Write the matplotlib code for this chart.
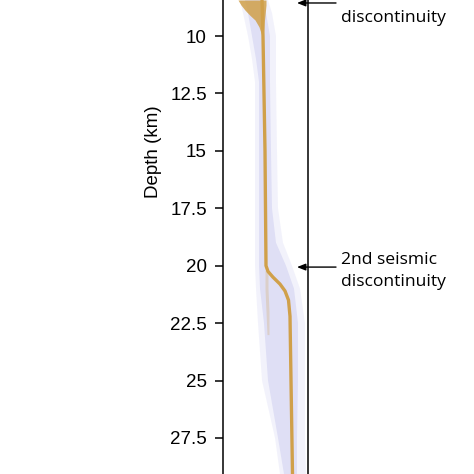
import matplotlib
matplotlib.use("Agg")
import matplotlib.pyplot as plt

# depth profile (km) vs shear velocity (km/s, arbitrary scale - no x ticks in reference)
best_depth = [8.43, 10.0, 15.0, 20.0, 20.25, 20.5, 20.8, 21.1, 21.5, 22.2, 25.0, 29.07]
best_vel = [3.59, 3.60, 3.62, 3.63, 3.65, 3.70, 3.77, 3.82, 3.855, 3.87, 3.88, 3.895]

# thick orange patch at the top of the profile
top_depth = [8.43, 8.65, 8.87, 9.1, 9.3, 9.6, 10.0]
top_left = [3.35, 3.38, 3.42, 3.47, 3.52, 3.56, 3.59]
top_right = [3.63, 3.63, 3.625, 3.62, 3.615, 3.61, 3.60]

# faint orange branch below the 2nd discontinuity
branch_depth = [20.2, 21.0, 22.0, 23.0]
branch_left = [3.62, 3.62, 3.63, 3.64]
branch_right = [3.65, 3.65, 3.66, 3.66]

# ensemble spread (blue cloud)
band_depth = [8.43, 9.0, 10.0, 11.0, 12.0, 15.0, 17.5, 19.0, 20.0, 21.0, 22.5, 25.0, 27.5, 29.07]
outer_left = [3.37, 3.40, 3.45, 3.49, 3.52, 3.52, 3.52, 3.52, 3.52, 3.53, 3.55, 3.59, 3.72, 3.77]
outer_right = [3.65, 3.69, 3.73, 3.73, 3.73, 3.74, 3.75, 3.80, 3.89, 3.97, 4.02, 4.02, 4.02, 4.03]
inner_left = [3.42, 3.45, 3.49, 3.53, 3.56, 3.56, 3.56, 3.56, 3.56, 3.57, 3.61, 3.65, 3.75, 3.81]
inner_right = [3.59, 3.63, 3.67, 3.67, 3.67, 3.68, 3.69, 3.73, 3.83, 3.91, 3.95, 3.95, 3.94, 3.94]

depth_ticks = [10, 12.5, 15, 17.5, 20, 22.5, 25, 27.5]
disc_depth = [8.56, 20.06]
disc_text = ["1st seismic\ndiscontinuity", "2nd seismic\ndiscontinuity"]

orange = "#d0a04a"
blue = "#7474d6"

fig = plt.figure(figsize=(4.74, 4.74), dpi=100)
ax = fig.add_axes([223 / 474, 0, 85 / 474, 1])

ax.fill_betweenx(band_depth, outer_left, outer_right, color=blue, alpha=0.09, lw=0)
ax.fill_betweenx(band_depth, inner_left, inner_right, color=blue, alpha=0.15, lw=0)
ax.fill_betweenx(top_depth, top_left, top_right, color=orange, alpha=0.85, lw=0)
ax.fill_betweenx(branch_depth, branch_left, branch_right, color=orange, alpha=0.25, lw=0)
ax.plot(best_vel, best_depth, color=orange, lw=2.4, solid_capstyle="butt")

ax.set_xlim(3.2, 4.05)
ax.set_ylim(29.07, 8.43)
ax.set_yticks(depth_ticks)
ax.set_yticklabels(["10", "12.5", "15", "17.5", "20", "22.5", "25", "27.5"],
                   family="Liberation Sans", fontsize=13.5)
ax.tick_params(axis="y", length=5.8, width=1.1, pad=5.8)
ax.set_xticks([])
for s in ["top", "bottom"]:
    ax.spines[s].set_visible(False)
for s in ["left", "right"]:
    ax.spines[s].set_linewidth(1.1)

ax.set_ylabel("Depth (km)", family="Liberation Sans", fontsize=13.5)
ax.yaxis.set_label_coords(-0.72, 0.681)

for d, t in zip(disc_depth, disc_text):
    ax.annotate("", xy=(3.94, d), xytext=(4.33, d), annotation_clip=False,
                arrowprops=dict(arrowstyle="-|>,head_length=0.5,head_width=0.2",
                                color="black", lw=1.0, shrinkA=0, shrinkB=0))
    ax.annotate(t, xy=(4.38, d), xytext=(0, -3), textcoords="offset points",
                family="Open Sans", fontsize=12.6, va="center", ha="left",
                linespacing=1.5, annotation_clip=False)

fig.savefig("out.png", dpi=100)
